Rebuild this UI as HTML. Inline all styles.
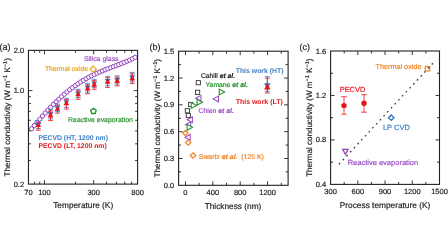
<!DOCTYPE html>
<html><head><meta charset="utf-8"><title>Thermal conductivity figure</title>
<style>html,body{margin:0;padding:0;background:#fff;width:448px;height:252px;overflow:hidden}svg{display:block}text{text-rendering:geometricPrecision}</style>
</head><body>
<svg width="448" height="252" viewBox="0 0 448 252" font-family="'Liberation Sans', Arial, sans-serif">
<circle cx="31.6" cy="128.81" r="2.15" fill="#fff" stroke="#9343bf" stroke-width="1.0"/>
<circle cx="34.32" cy="125.56" r="2.15" fill="#fff" stroke="#9343bf" stroke-width="1.0"/>
<circle cx="37.05" cy="122.35" r="2.15" fill="#fff" stroke="#9343bf" stroke-width="1.0"/>
<circle cx="39.77" cy="119.19" r="2.15" fill="#fff" stroke="#9343bf" stroke-width="1.0"/>
<circle cx="42.49" cy="116.09" r="2.15" fill="#fff" stroke="#9343bf" stroke-width="1.0"/>
<circle cx="45.22" cy="113.05" r="2.15" fill="#fff" stroke="#9343bf" stroke-width="1.0"/>
<circle cx="47.94" cy="110.1" r="2.15" fill="#fff" stroke="#9343bf" stroke-width="1.0"/>
<circle cx="50.67" cy="107.22" r="2.15" fill="#fff" stroke="#9343bf" stroke-width="1.0"/>
<circle cx="53.39" cy="104.43" r="2.15" fill="#fff" stroke="#9343bf" stroke-width="1.0"/>
<circle cx="56.11" cy="101.73" r="2.15" fill="#fff" stroke="#9343bf" stroke-width="1.0"/>
<circle cx="58.84" cy="99.13" r="2.15" fill="#fff" stroke="#9343bf" stroke-width="1.0"/>
<circle cx="61.56" cy="96.63" r="2.15" fill="#fff" stroke="#9343bf" stroke-width="1.0"/>
<circle cx="64.28" cy="94.23" r="2.15" fill="#fff" stroke="#9343bf" stroke-width="1.0"/>
<circle cx="67.01" cy="91.93" r="2.15" fill="#fff" stroke="#9343bf" stroke-width="1.0"/>
<circle cx="69.73" cy="89.73" r="2.15" fill="#fff" stroke="#9343bf" stroke-width="1.0"/>
<circle cx="72.46" cy="87.65" r="2.15" fill="#fff" stroke="#9343bf" stroke-width="1.0"/>
<circle cx="75.18" cy="85.66" r="2.15" fill="#fff" stroke="#9343bf" stroke-width="1.0"/>
<circle cx="77.9" cy="83.78" r="2.15" fill="#fff" stroke="#9343bf" stroke-width="1.0"/>
<circle cx="80.63" cy="82" r="2.15" fill="#fff" stroke="#9343bf" stroke-width="1.0"/>
<circle cx="83.35" cy="80.31" r="2.15" fill="#fff" stroke="#9343bf" stroke-width="1.0"/>
<circle cx="86.07" cy="78.72" r="2.15" fill="#fff" stroke="#9343bf" stroke-width="1.0"/>
<circle cx="88.8" cy="77.22" r="2.15" fill="#fff" stroke="#9343bf" stroke-width="1.0"/>
<circle cx="91.52" cy="75.81" r="2.15" fill="#fff" stroke="#9343bf" stroke-width="1.0"/>
<circle cx="94.24" cy="74.47" r="2.15" fill="#fff" stroke="#9343bf" stroke-width="1.0"/>
<circle cx="96.97" cy="73.2" r="2.15" fill="#fff" stroke="#9343bf" stroke-width="1.0"/>
<circle cx="99.69" cy="72" r="2.15" fill="#fff" stroke="#9343bf" stroke-width="1.0"/>
<circle cx="102.42" cy="70.86" r="2.15" fill="#fff" stroke="#9343bf" stroke-width="1.0"/>
<circle cx="105.14" cy="69.76" r="2.15" fill="#fff" stroke="#9343bf" stroke-width="1.0"/>
<circle cx="107.86" cy="68.69" r="2.15" fill="#fff" stroke="#9343bf" stroke-width="1.0"/>
<circle cx="110.59" cy="67.66" r="2.15" fill="#fff" stroke="#9343bf" stroke-width="1.0"/>
<circle cx="113.31" cy="66.64" r="2.15" fill="#fff" stroke="#9343bf" stroke-width="1.0"/>
<circle cx="116.03" cy="65.62" r="2.15" fill="#fff" stroke="#9343bf" stroke-width="1.0"/>
<circle cx="118.76" cy="64.59" r="2.15" fill="#fff" stroke="#9343bf" stroke-width="1.0"/>
<circle cx="121.48" cy="63.53" r="2.15" fill="#fff" stroke="#9343bf" stroke-width="1.0"/>
<circle cx="124.21" cy="62.44" r="2.15" fill="#fff" stroke="#9343bf" stroke-width="1.0"/>
<circle cx="126.93" cy="61.29" r="2.15" fill="#fff" stroke="#9343bf" stroke-width="1.0"/>
<circle cx="129.65" cy="60.07" r="2.15" fill="#fff" stroke="#9343bf" stroke-width="1.0"/>
<circle cx="132.38" cy="58.77" r="2.15" fill="#fff" stroke="#9343bf" stroke-width="1.0"/>
<circle cx="135.1" cy="57.36" r="2.15" fill="#fff" stroke="#9343bf" stroke-width="1.0"/>
<line x1="38.3" y1="121.2" x2="38.3" y2="128.5" stroke="#3a7fc6" stroke-width="0.8"/>
<line x1="35.8" y1="121.2" x2="40.8" y2="121.2" stroke="#3a7fc6" stroke-width="0.8"/>
<line x1="35.8" y1="128.5" x2="40.8" y2="128.5" stroke="#3a7fc6" stroke-width="0.8"/>
<path d="M35.3,123 L41.3,123 L38.3,126.8 Z" fill="#3a7fc6"/>
<line x1="38.3" y1="122.55" x2="38.3" y2="130.2" stroke="#e81419" stroke-width="0.8"/>
<line x1="35.8" y1="122.55" x2="40.8" y2="122.55" stroke="#e81419" stroke-width="0.8"/>
<line x1="35.8" y1="130.2" x2="40.8" y2="130.2" stroke="#e81419" stroke-width="0.8"/>
<path d="M35.45,127 L41.15,127 L38.3,122.7 Z" fill="#e81419"/>
<line x1="50.5" y1="109.6" x2="50.5" y2="118.9" stroke="#3a7fc6" stroke-width="0.8"/>
<line x1="48" y1="109.6" x2="53" y2="109.6" stroke="#3a7fc6" stroke-width="0.8"/>
<line x1="48" y1="118.9" x2="53" y2="118.9" stroke="#3a7fc6" stroke-width="0.8"/>
<path d="M47.5,111.9 L53.5,111.9 L50.5,117.2 Z" fill="#3a7fc6"/>
<line x1="50.5" y1="110.95" x2="50.5" y2="120.6" stroke="#e81419" stroke-width="0.8"/>
<line x1="48" y1="110.95" x2="53" y2="110.95" stroke="#e81419" stroke-width="0.8"/>
<line x1="48" y1="120.6" x2="53" y2="120.6" stroke="#e81419" stroke-width="0.8"/>
<path d="M47.65,117.4 L53.35,117.4 L50.5,111.6 Z" fill="#e81419"/>
<line x1="57.5" y1="104.2" x2="57.5" y2="111.4" stroke="#3a7fc6" stroke-width="0.8"/>
<line x1="55" y1="104.2" x2="60" y2="104.2" stroke="#3a7fc6" stroke-width="0.8"/>
<line x1="55" y1="111.4" x2="60" y2="111.4" stroke="#3a7fc6" stroke-width="0.8"/>
<path d="M54.5,106.2 L60.5,106.2 L57.5,110.6 Z" fill="#3a7fc6"/>
<line x1="57.5" y1="105.55" x2="57.5" y2="113.1" stroke="#e81419" stroke-width="0.8"/>
<line x1="55" y1="105.55" x2="60" y2="105.55" stroke="#e81419" stroke-width="0.8"/>
<line x1="55" y1="113.1" x2="60" y2="113.1" stroke="#e81419" stroke-width="0.8"/>
<path d="M54.65,110.8 L60.35,110.8 L57.5,105.9 Z" fill="#e81419"/>
<line x1="66.4" y1="98.2" x2="66.4" y2="107.4" stroke="#3a7fc6" stroke-width="0.8"/>
<line x1="63.9" y1="98.2" x2="68.9" y2="98.2" stroke="#3a7fc6" stroke-width="0.8"/>
<line x1="63.9" y1="107.4" x2="68.9" y2="107.4" stroke="#3a7fc6" stroke-width="0.8"/>
<path d="M63.4,100.3 L69.4,100.3 L66.4,105.1 Z" fill="#3a7fc6"/>
<line x1="66.4" y1="99.55" x2="66.4" y2="109.1" stroke="#e81419" stroke-width="0.8"/>
<line x1="63.9" y1="99.55" x2="68.9" y2="99.55" stroke="#e81419" stroke-width="0.8"/>
<line x1="63.9" y1="109.1" x2="68.9" y2="109.1" stroke="#e81419" stroke-width="0.8"/>
<path d="M63.55,105.3 L69.25,105.3 L66.4,100 Z" fill="#e81419"/>
<line x1="78.1" y1="89.3" x2="78.1" y2="97.6" stroke="#3a7fc6" stroke-width="0.8"/>
<line x1="75.6" y1="89.3" x2="80.6" y2="89.3" stroke="#3a7fc6" stroke-width="0.8"/>
<line x1="75.6" y1="97.6" x2="80.6" y2="97.6" stroke="#3a7fc6" stroke-width="0.8"/>
<path d="M75.1,91.5 L81.1,91.5 L78.1,96 Z" fill="#3a7fc6"/>
<line x1="78.1" y1="90.65" x2="78.1" y2="99.3" stroke="#e81419" stroke-width="0.8"/>
<line x1="75.6" y1="90.65" x2="80.6" y2="90.65" stroke="#e81419" stroke-width="0.8"/>
<line x1="75.6" y1="99.3" x2="80.6" y2="99.3" stroke="#e81419" stroke-width="0.8"/>
<path d="M75.25,96.2 L80.95,96.2 L78.1,91.2 Z" fill="#e81419"/>
<line x1="87.6" y1="83.5" x2="87.6" y2="92" stroke="#3a7fc6" stroke-width="0.8"/>
<line x1="85.1" y1="83.5" x2="90.1" y2="83.5" stroke="#3a7fc6" stroke-width="0.8"/>
<line x1="85.1" y1="92" x2="90.1" y2="92" stroke="#3a7fc6" stroke-width="0.8"/>
<path d="M84.6,85.5 L90.6,85.5 L87.6,90.4 Z" fill="#3a7fc6"/>
<line x1="87.6" y1="84.85" x2="87.6" y2="93.7" stroke="#e81419" stroke-width="0.8"/>
<line x1="85.1" y1="84.85" x2="90.1" y2="84.85" stroke="#e81419" stroke-width="0.8"/>
<line x1="85.1" y1="93.7" x2="90.1" y2="93.7" stroke="#e81419" stroke-width="0.8"/>
<path d="M84.75,90.6 L90.45,90.6 L87.6,85.2 Z" fill="#e81419"/>
<line x1="94.2" y1="79.3" x2="94.2" y2="87.6" stroke="#3a7fc6" stroke-width="0.8"/>
<line x1="91.7" y1="79.3" x2="96.7" y2="79.3" stroke="#3a7fc6" stroke-width="0.8"/>
<line x1="91.7" y1="87.6" x2="96.7" y2="87.6" stroke="#3a7fc6" stroke-width="0.8"/>
<path d="M91.2,81.6 L97.2,81.6 L94.2,86.5 Z" fill="#3a7fc6"/>
<line x1="94.2" y1="80.65" x2="94.2" y2="89.3" stroke="#e81419" stroke-width="0.8"/>
<line x1="91.7" y1="80.65" x2="96.7" y2="80.65" stroke="#e81419" stroke-width="0.8"/>
<line x1="91.7" y1="89.3" x2="96.7" y2="89.3" stroke="#e81419" stroke-width="0.8"/>
<path d="M91.35,86.7 L97.05,86.7 L94.2,81.3 Z" fill="#e81419"/>
<line x1="107.6" y1="76.3" x2="107.6" y2="85.7" stroke="#3a7fc6" stroke-width="0.8"/>
<line x1="105.1" y1="76.3" x2="110.1" y2="76.3" stroke="#3a7fc6" stroke-width="0.8"/>
<line x1="105.1" y1="85.7" x2="110.1" y2="85.7" stroke="#3a7fc6" stroke-width="0.8"/>
<path d="M104.6,78.9 L110.6,78.9 L107.6,83.6 Z" fill="#3a7fc6"/>
<line x1="107.6" y1="77.65" x2="107.6" y2="87.4" stroke="#e81419" stroke-width="0.8"/>
<line x1="105.1" y1="77.65" x2="110.1" y2="77.65" stroke="#e81419" stroke-width="0.8"/>
<line x1="105.1" y1="87.4" x2="110.1" y2="87.4" stroke="#e81419" stroke-width="0.8"/>
<path d="M104.75,83.8 L110.45,83.8 L107.6,78.6 Z" fill="#e81419"/>
<line x1="117.2" y1="75.8" x2="117.2" y2="84.1" stroke="#3a7fc6" stroke-width="0.8"/>
<line x1="114.7" y1="75.8" x2="119.7" y2="75.8" stroke="#3a7fc6" stroke-width="0.8"/>
<line x1="114.7" y1="84.1" x2="119.7" y2="84.1" stroke="#3a7fc6" stroke-width="0.8"/>
<path d="M114.2,78.1 L120.2,78.1 L117.2,82.8 Z" fill="#3a7fc6"/>
<line x1="117.2" y1="77.15" x2="117.2" y2="85.8" stroke="#e81419" stroke-width="0.8"/>
<line x1="114.7" y1="77.15" x2="119.7" y2="77.15" stroke="#e81419" stroke-width="0.8"/>
<line x1="114.7" y1="85.8" x2="119.7" y2="85.8" stroke="#e81419" stroke-width="0.8"/>
<path d="M114.35,83 L120.05,83 L117.2,77.8 Z" fill="#e81419"/>
<line x1="132.2" y1="72.4" x2="132.2" y2="81.9" stroke="#3a7fc6" stroke-width="0.8"/>
<line x1="129.7" y1="72.4" x2="134.7" y2="72.4" stroke="#3a7fc6" stroke-width="0.8"/>
<line x1="129.7" y1="81.9" x2="134.7" y2="81.9" stroke="#3a7fc6" stroke-width="0.8"/>
<path d="M129.2,75.3 L135.2,75.3 L132.2,80.4 Z" fill="#3a7fc6"/>
<line x1="132.2" y1="73.75" x2="132.2" y2="83.6" stroke="#e81419" stroke-width="0.8"/>
<line x1="129.7" y1="73.75" x2="134.7" y2="73.75" stroke="#e81419" stroke-width="0.8"/>
<line x1="129.7" y1="83.6" x2="134.7" y2="83.6" stroke="#e81419" stroke-width="0.8"/>
<path d="M129.35,80.6 L135.05,80.6 L132.2,75 Z" fill="#e81419"/>
<path d="M93.2,66.1 L96.4,69.3 L93.2,72.5 L90,69.3 Z" fill="#fff" stroke="#e6a614" stroke-width="1.2"/>
<polygon points="93.5,108.35 96.21,110.32 95.18,113.51 91.82,113.51 90.79,110.32" fill="#fff" stroke="#22922a" stroke-width="1.35"/>
<rect x="28.45" y="50.35" width="109.15" height="133.75" fill="none" stroke="#222" stroke-width="1.1"/>
<line x1="34.43" y1="184.1" x2="34.43" y2="181.6" stroke="#222" stroke-width="0.9"/>
<line x1="34.43" y1="50.35" x2="34.43" y2="52.85" stroke="#222" stroke-width="0.9"/>
<line x1="39.71" y1="184.1" x2="39.71" y2="181.6" stroke="#222" stroke-width="0.9"/>
<line x1="39.71" y1="50.35" x2="39.71" y2="52.85" stroke="#222" stroke-width="0.9"/>
<line x1="44.43" y1="184.1" x2="44.43" y2="180.1" stroke="#222" stroke-width="0.9"/>
<line x1="44.43" y1="50.35" x2="44.43" y2="54.35" stroke="#222" stroke-width="0.9"/>
<line x1="75.49" y1="184.1" x2="75.49" y2="181.6" stroke="#222" stroke-width="0.9"/>
<line x1="75.49" y1="50.35" x2="75.49" y2="52.85" stroke="#222" stroke-width="0.9"/>
<line x1="93.65" y1="184.1" x2="93.65" y2="180.1" stroke="#222" stroke-width="0.9"/>
<line x1="93.65" y1="50.35" x2="93.65" y2="54.35" stroke="#222" stroke-width="0.9"/>
<line x1="106.54" y1="184.1" x2="106.54" y2="181.6" stroke="#222" stroke-width="0.9"/>
<line x1="106.54" y1="50.35" x2="106.54" y2="52.85" stroke="#222" stroke-width="0.9"/>
<line x1="116.54" y1="184.1" x2="116.54" y2="181.6" stroke="#222" stroke-width="0.9"/>
<line x1="116.54" y1="50.35" x2="116.54" y2="52.85" stroke="#222" stroke-width="0.9"/>
<line x1="124.71" y1="184.1" x2="124.71" y2="181.6" stroke="#222" stroke-width="0.9"/>
<line x1="124.71" y1="50.35" x2="124.71" y2="52.85" stroke="#222" stroke-width="0.9"/>
<line x1="131.62" y1="184.1" x2="131.62" y2="181.6" stroke="#222" stroke-width="0.9"/>
<line x1="131.62" y1="50.35" x2="131.62" y2="52.85" stroke="#222" stroke-width="0.9"/>
<line x1="28.45" y1="160.55" x2="30.95" y2="160.55" stroke="#222" stroke-width="0.9"/>
<line x1="137.6" y1="160.55" x2="135.1" y2="160.55" stroke="#222" stroke-width="0.9"/>
<line x1="28.45" y1="143.84" x2="30.95" y2="143.84" stroke="#222" stroke-width="0.9"/>
<line x1="137.6" y1="143.84" x2="135.1" y2="143.84" stroke="#222" stroke-width="0.9"/>
<line x1="28.45" y1="130.88" x2="30.95" y2="130.88" stroke="#222" stroke-width="0.9"/>
<line x1="137.6" y1="130.88" x2="135.1" y2="130.88" stroke="#222" stroke-width="0.9"/>
<line x1="28.45" y1="120.29" x2="30.95" y2="120.29" stroke="#222" stroke-width="0.9"/>
<line x1="137.6" y1="120.29" x2="135.1" y2="120.29" stroke="#222" stroke-width="0.9"/>
<line x1="28.45" y1="111.33" x2="30.95" y2="111.33" stroke="#222" stroke-width="0.9"/>
<line x1="137.6" y1="111.33" x2="135.1" y2="111.33" stroke="#222" stroke-width="0.9"/>
<line x1="28.45" y1="103.57" x2="30.95" y2="103.57" stroke="#222" stroke-width="0.9"/>
<line x1="137.6" y1="103.57" x2="135.1" y2="103.57" stroke="#222" stroke-width="0.9"/>
<line x1="28.45" y1="96.73" x2="30.95" y2="96.73" stroke="#222" stroke-width="0.9"/>
<line x1="137.6" y1="96.73" x2="135.1" y2="96.73" stroke="#222" stroke-width="0.9"/>
<line x1="28.45" y1="90.61" x2="32.45" y2="90.61" stroke="#222" stroke-width="0.9"/>
<line x1="137.6" y1="90.61" x2="133.6" y2="90.61" stroke="#222" stroke-width="0.9"/>
<text x="83.9" y="60.5" font-size="6.95" fill="#9d4ec4" stroke="#9d4ec4" stroke-width="0.18" text-anchor="start" font-weight="normal">Silica glass</text>
<text x="44.9" y="70.6" font-size="6.8" fill="#e6a614" stroke="#e6a614" stroke-width="0.18" text-anchor="start" font-weight="normal">Thermal oxide</text>
<text x="68.1" y="122.3" font-size="6.9" fill="#22922a" stroke="#22922a" stroke-width="0.18" text-anchor="start" font-weight="normal">Reactive evaporation</text>
<text x="38.4" y="139.8" font-size="6.85" fill="#3a7fc6" text-anchor="start" font-weight="bold">PECVD (HT, 1200 nm)</text>
<text x="38.4" y="148" font-size="6.85" fill="#e81419" text-anchor="start" font-weight="bold">PECVD (LT, 1200 nm)</text>
<text x="24.15" y="52.9" font-size="7.5" fill="#222" stroke="#222" stroke-width="0.18" text-anchor="end" font-weight="normal">2.0</text>
<text x="24.15" y="93.16" font-size="7.5" fill="#222" stroke="#222" stroke-width="0.18" text-anchor="end" font-weight="normal">1.0</text>
<text x="24.15" y="186.65" font-size="7.5" fill="#222" stroke="#222" stroke-width="0.18" text-anchor="end" font-weight="normal">0.2</text>
<text x="28.45" y="194.5" font-size="7.5" fill="#222" stroke="#222" stroke-width="0.18" text-anchor="middle" font-weight="normal">70</text>
<text x="44.43" y="194.5" font-size="7.5" fill="#222" stroke="#222" stroke-width="0.18" text-anchor="middle" font-weight="normal">100</text>
<text x="93.65" y="194.5" font-size="7.5" fill="#222" stroke="#222" stroke-width="0.18" text-anchor="middle" font-weight="normal">300</text>
<text x="137.6" y="194.5" font-size="7.5" fill="#222" stroke="#222" stroke-width="0.18" text-anchor="middle" font-weight="normal">800</text>
<text x="83.2" y="207.5" font-size="8.3" fill="#222" stroke="#222" stroke-width="0.18" text-anchor="middle" font-weight="normal">Temperature (K)</text>
<text x="-0.4" y="50" font-size="9" fill="#222" stroke="#222" stroke-width="0.18" text-anchor="start" font-weight="normal">(a)</text>
<text transform="translate(10.3,117.25) rotate(-90)" x="0" y="0" font-size="8.05" fill="#222" stroke="#222" stroke-width="0.18" text-anchor="middle">Thermal conductivity (W m<tspan font-size="5.6" dy="-3.2">&#8722;1</tspan><tspan dy="3.2"> K</tspan><tspan font-size="5.6" dy="-3.2">&#8722;1</tspan><tspan dy="3.2">)</tspan></text>
<rect x="196.2" y="80.6" width="4.2" height="4.2" fill="#fff" stroke="#333" stroke-width="0.9"/>
<rect x="195.5" y="90.2" width="4.2" height="4.2" fill="#fff" stroke="#333" stroke-width="0.9"/>
<rect x="188.6" y="102.4" width="4.2" height="4.2" fill="#fff" stroke="#333" stroke-width="0.9"/>
<rect x="185.3" y="108.7" width="4.2" height="4.2" fill="#fff" stroke="#333" stroke-width="0.9"/>
<rect x="186.2" y="113.4" width="4.2" height="4.2" fill="#fff" stroke="#333" stroke-width="0.9"/>
<path d="M195.65,98.2 L200.92,95.35 L200.92,101.05 Z" fill="#fff" stroke="#9d4ec4" stroke-width="1.05"/>
<path d="M213.15,98.9 L218.42,96.05 L218.42,101.75 Z" fill="#fff" stroke="#9d4ec4" stroke-width="1.05"/>
<path d="M187.15,119.8 L192.42,116.95 L192.42,122.65 Z" fill="#fff" stroke="#9d4ec4" stroke-width="1.05"/>
<path d="M185.45,124.6 L190.72,121.75 L190.72,127.45 Z" fill="#fff" stroke="#9d4ec4" stroke-width="1.05"/>
<path d="M184.95,137.3 L190.22,134.45 L190.22,140.15 Z" fill="#fff" stroke="#9d4ec4" stroke-width="1.05"/>
<path d="M196.65,105.5 L191.19,102.55 L191.19,108.45 Z" fill="#fff" stroke="#22922a" stroke-width="1.05"/>
<path d="M202.55,102.2 L197.09,99.25 L197.09,105.15 Z" fill="#fff" stroke="#22922a" stroke-width="1.05"/>
<path d="M224.65,92 L219.19,89.05 L219.19,94.95 Z" fill="#fff" stroke="#22922a" stroke-width="1.05"/>
<path d="M192.55,127.3 L187.09,124.35 L187.09,130.25 Z" fill="#fff" stroke="#22922a" stroke-width="1.05"/>
<path d="M185.4,130.25 L188.15,133 L185.4,135.75 L182.65,133 Z" fill="#fff" stroke="#f28420" stroke-width="1.2"/>
<path d="M188.2,139.75 L190.95,142.5 L188.2,145.25 L185.45,142.5 Z" fill="#fff" stroke="#f28420" stroke-width="1.2"/>
<path d="M193,152.75 L195.75,155.5 L193,158.25 L190.25,155.5 Z" fill="#fff" stroke="#f28420" stroke-width="1.2"/>
<line x1="267.3" y1="76.6" x2="267.3" y2="91.3" stroke="#3a7fc6" stroke-width="0.8"/>
<line x1="264.8" y1="76.6" x2="269.8" y2="76.6" stroke="#3a7fc6" stroke-width="0.8"/>
<line x1="264.8" y1="91.3" x2="269.8" y2="91.3" stroke="#3a7fc6" stroke-width="0.8"/>
<path d="M264.05,83.2 L270.55,83.2 L267.3,89.4 Z" fill="#3a7fc6"/>
<line x1="267.3" y1="78.2" x2="267.3" y2="93" stroke="#e81419" stroke-width="0.8"/>
<line x1="264.8" y1="78.2" x2="269.8" y2="78.2" stroke="#e81419" stroke-width="0.8"/>
<line x1="264.8" y1="93" x2="269.8" y2="93" stroke="#e81419" stroke-width="0.8"/>
<path d="M264.2,89.6 L270.4,89.6 L267.3,82.9 Z" fill="#e81419"/>
<rect x="178.6" y="51.2" width="109.5" height="134.1" fill="none" stroke="#222" stroke-width="1.1"/>
<line x1="185.44" y1="185.3" x2="185.44" y2="181.3" stroke="#222" stroke-width="0.9"/>
<line x1="185.44" y1="51.2" x2="185.44" y2="55.2" stroke="#222" stroke-width="0.9"/>
<line x1="199.13" y1="185.3" x2="199.13" y2="182.8" stroke="#222" stroke-width="0.9"/>
<line x1="199.13" y1="51.2" x2="199.13" y2="53.7" stroke="#222" stroke-width="0.9"/>
<line x1="212.82" y1="185.3" x2="212.82" y2="181.3" stroke="#222" stroke-width="0.9"/>
<line x1="212.82" y1="51.2" x2="212.82" y2="55.2" stroke="#222" stroke-width="0.9"/>
<line x1="226.51" y1="185.3" x2="226.51" y2="182.8" stroke="#222" stroke-width="0.9"/>
<line x1="226.51" y1="51.2" x2="226.51" y2="53.7" stroke="#222" stroke-width="0.9"/>
<line x1="240.19" y1="185.3" x2="240.19" y2="181.3" stroke="#222" stroke-width="0.9"/>
<line x1="240.19" y1="51.2" x2="240.19" y2="55.2" stroke="#222" stroke-width="0.9"/>
<line x1="253.88" y1="185.3" x2="253.88" y2="182.8" stroke="#222" stroke-width="0.9"/>
<line x1="253.88" y1="51.2" x2="253.88" y2="53.7" stroke="#222" stroke-width="0.9"/>
<line x1="267.57" y1="185.3" x2="267.57" y2="181.3" stroke="#222" stroke-width="0.9"/>
<line x1="267.57" y1="51.2" x2="267.57" y2="55.2" stroke="#222" stroke-width="0.9"/>
<line x1="281.26" y1="185.3" x2="281.26" y2="182.8" stroke="#222" stroke-width="0.9"/>
<line x1="281.26" y1="51.2" x2="281.26" y2="53.7" stroke="#222" stroke-width="0.9"/>
<line x1="178.6" y1="171.89" x2="181.1" y2="171.89" stroke="#222" stroke-width="0.9"/>
<line x1="288.1" y1="171.89" x2="285.6" y2="171.89" stroke="#222" stroke-width="0.9"/>
<line x1="178.6" y1="158.48" x2="182.6" y2="158.48" stroke="#222" stroke-width="0.9"/>
<line x1="288.1" y1="158.48" x2="284.1" y2="158.48" stroke="#222" stroke-width="0.9"/>
<line x1="178.6" y1="145.07" x2="181.1" y2="145.07" stroke="#222" stroke-width="0.9"/>
<line x1="288.1" y1="145.07" x2="285.6" y2="145.07" stroke="#222" stroke-width="0.9"/>
<line x1="178.6" y1="131.66" x2="182.6" y2="131.66" stroke="#222" stroke-width="0.9"/>
<line x1="288.1" y1="131.66" x2="284.1" y2="131.66" stroke="#222" stroke-width="0.9"/>
<line x1="178.6" y1="118.25" x2="181.1" y2="118.25" stroke="#222" stroke-width="0.9"/>
<line x1="288.1" y1="118.25" x2="285.6" y2="118.25" stroke="#222" stroke-width="0.9"/>
<line x1="178.6" y1="104.84" x2="182.6" y2="104.84" stroke="#222" stroke-width="0.9"/>
<line x1="288.1" y1="104.84" x2="284.1" y2="104.84" stroke="#222" stroke-width="0.9"/>
<line x1="178.6" y1="91.43" x2="181.1" y2="91.43" stroke="#222" stroke-width="0.9"/>
<line x1="288.1" y1="91.43" x2="285.6" y2="91.43" stroke="#222" stroke-width="0.9"/>
<line x1="178.6" y1="78.02" x2="182.6" y2="78.02" stroke="#222" stroke-width="0.9"/>
<line x1="288.1" y1="78.02" x2="284.1" y2="78.02" stroke="#222" stroke-width="0.9"/>
<line x1="178.6" y1="64.61" x2="181.1" y2="64.61" stroke="#222" stroke-width="0.9"/>
<line x1="288.1" y1="64.61" x2="285.6" y2="64.61" stroke="#222" stroke-width="0.9"/>
<text x="174.3" y="187.85" font-size="7.5" fill="#222" stroke="#222" stroke-width="0.18" text-anchor="end" font-weight="normal">0.0</text>
<text x="174.3" y="161.03" font-size="7.5" fill="#222" stroke="#222" stroke-width="0.18" text-anchor="end" font-weight="normal">0.3</text>
<text x="174.3" y="134.21" font-size="7.5" fill="#222" stroke="#222" stroke-width="0.18" text-anchor="end" font-weight="normal">0.6</text>
<text x="174.3" y="107.39" font-size="7.5" fill="#222" stroke="#222" stroke-width="0.18" text-anchor="end" font-weight="normal">0.9</text>
<text x="174.3" y="80.57" font-size="7.5" fill="#222" stroke="#222" stroke-width="0.18" text-anchor="end" font-weight="normal">1.2</text>
<text x="174.3" y="53.75" font-size="7.5" fill="#222" stroke="#222" stroke-width="0.18" text-anchor="end" font-weight="normal">1.5</text>
<text x="185.44" y="195.2" font-size="7.5" fill="#222" stroke="#222" stroke-width="0.18" text-anchor="middle" font-weight="normal">0</text>
<text x="212.82" y="195.2" font-size="7.5" fill="#222" stroke="#222" stroke-width="0.18" text-anchor="middle" font-weight="normal">400</text>
<text x="240.19" y="195.2" font-size="7.5" fill="#222" stroke="#222" stroke-width="0.18" text-anchor="middle" font-weight="normal">800</text>
<text x="267.57" y="195.2" font-size="7.5" fill="#222" stroke="#222" stroke-width="0.18" text-anchor="middle" font-weight="normal">1200</text>
<text x="233" y="208.85" font-size="8.3" fill="#222" stroke="#222" stroke-width="0.18" text-anchor="middle" font-weight="normal">Thickness (nm)</text>
<text x="149.6" y="50" font-size="9" fill="#222" stroke="#222" stroke-width="0.18" text-anchor="start" font-weight="normal">(b)</text>
<text transform="translate(160.45,118.15) rotate(-90)" x="0" y="0" font-size="8.05" fill="#222" stroke="#222" stroke-width="0.18" text-anchor="middle">Thermal conductivity (W m<tspan font-size="5.6" dy="-3.2">&#8722;1</tspan><tspan dy="3.2"> K</tspan><tspan font-size="5.6" dy="-3.2">&#8722;1</tspan><tspan dy="3.2">)</tspan></text>
<text x="200.9" y="77.8" font-size="6.75" fill="#222" stroke="#222" stroke-width="0.18" text-anchor="start" font-weight="normal">Cahill <tspan font-style="italic" font-weight="bold">et al.</tspan></text>
<text x="205.6" y="87.4" font-size="6.8" fill="#22922a" stroke="#22922a" stroke-width="0.18" text-anchor="start" font-weight="normal">Yamane <tspan font-style="italic" font-weight="bold">et al.</tspan></text>
<text x="198.5" y="112.7" font-size="6.85" fill="#9d4ec4" stroke="#9d4ec4" stroke-width="0.18" text-anchor="start" font-weight="normal">Chien <tspan font-style="italic" font-weight="bold">et al.</tspan></text>
<text x="198.8" y="159.3" font-size="6.9" fill="#f28420" stroke="#f28420" stroke-width="0.18" text-anchor="start" font-weight="normal" xml:space="preserve">Swartz <tspan font-style="italic" font-weight="bold">et al.</tspan>  (125 K)</text>
<text x="235.7" y="72.9" font-size="6.9" fill="#3a7fc6" text-anchor="start" font-weight="bold">This work (HT)</text>
<text x="235.7" y="104" font-size="6.98" fill="#e81419" text-anchor="start" font-weight="bold">This work (LT)</text>
<line x1="338.97" y1="164.24" x2="340.12" y2="162.99" stroke="#383838" stroke-width="1.25"/>
<line x1="342.68" y1="160.25" x2="343.84" y2="159" stroke="#383838" stroke-width="1.25"/>
<line x1="346.39" y1="156.26" x2="347.55" y2="155.01" stroke="#383838" stroke-width="1.25"/>
<line x1="350.1" y1="152.27" x2="351.26" y2="151.02" stroke="#383838" stroke-width="1.25"/>
<line x1="353.81" y1="148.28" x2="354.97" y2="147.03" stroke="#383838" stroke-width="1.25"/>
<line x1="357.52" y1="144.29" x2="358.68" y2="143.05" stroke="#383838" stroke-width="1.25"/>
<line x1="361.23" y1="140.3" x2="362.39" y2="139.06" stroke="#383838" stroke-width="1.25"/>
<line x1="364.95" y1="136.31" x2="366.1" y2="135.07" stroke="#383838" stroke-width="1.25"/>
<line x1="368.66" y1="132.32" x2="369.82" y2="131.08" stroke="#383838" stroke-width="1.25"/>
<line x1="372.37" y1="128.33" x2="373.53" y2="127.09" stroke="#383838" stroke-width="1.25"/>
<line x1="376.08" y1="124.34" x2="377.24" y2="123.1" stroke="#383838" stroke-width="1.25"/>
<line x1="379.79" y1="120.35" x2="380.95" y2="119.11" stroke="#383838" stroke-width="1.25"/>
<line x1="383.5" y1="116.36" x2="384.66" y2="115.12" stroke="#383838" stroke-width="1.25"/>
<line x1="387.21" y1="112.37" x2="388.37" y2="111.13" stroke="#383838" stroke-width="1.25"/>
<line x1="390.93" y1="108.39" x2="392.08" y2="107.14" stroke="#383838" stroke-width="1.25"/>
<line x1="394.64" y1="104.4" x2="395.8" y2="103.15" stroke="#383838" stroke-width="1.25"/>
<line x1="398.35" y1="100.41" x2="399.51" y2="99.16" stroke="#383838" stroke-width="1.25"/>
<line x1="402.06" y1="96.42" x2="403.22" y2="95.17" stroke="#383838" stroke-width="1.25"/>
<line x1="405.77" y1="92.43" x2="406.93" y2="91.18" stroke="#383838" stroke-width="1.25"/>
<line x1="409.48" y1="88.44" x2="410.64" y2="87.19" stroke="#383838" stroke-width="1.25"/>
<line x1="413.19" y1="84.45" x2="414.35" y2="83.2" stroke="#383838" stroke-width="1.25"/>
<line x1="416.91" y1="80.46" x2="418.06" y2="79.21" stroke="#383838" stroke-width="1.25"/>
<line x1="420.62" y1="76.47" x2="421.78" y2="75.23" stroke="#383838" stroke-width="1.25"/>
<line x1="424.33" y1="72.48" x2="425.49" y2="71.24" stroke="#383838" stroke-width="1.25"/>
<line x1="428.04" y1="68.49" x2="429.2" y2="67.25" stroke="#383838" stroke-width="1.25"/>
<line x1="431.75" y1="64.5" x2="432.91" y2="63.26" stroke="#383838" stroke-width="1.25"/>
<line x1="344" y1="96.7" x2="344" y2="114.2" stroke="#e81419" stroke-width="0.8"/>
<line x1="341.2" y1="96.7" x2="346.8" y2="96.7" stroke="#e81419" stroke-width="0.8"/>
<line x1="341.2" y1="114.2" x2="346.8" y2="114.2" stroke="#e81419" stroke-width="0.8"/>
<circle cx="344" cy="105.6" r="2.7" fill="#e81419"/>
<line x1="364" y1="94.7" x2="364" y2="112.2" stroke="#e81419" stroke-width="0.8"/>
<line x1="361.2" y1="94.7" x2="366.8" y2="94.7" stroke="#e81419" stroke-width="0.8"/>
<line x1="361.2" y1="112.2" x2="366.8" y2="112.2" stroke="#e81419" stroke-width="0.8"/>
<circle cx="364" cy="103.3" r="2.7" fill="#e81419"/>
<path d="M391.3,115 L394,117.7 L391.3,120.4 L388.6,117.7 Z" fill="#fff" stroke="#2f74c2" stroke-width="1.35"/>
<path d="M342.7,149.4 L348.1,149.4 L345.4,154.4 Z" fill="#fff" stroke="#9343bf" stroke-width="1.25"/>
<rect x="425.3" y="66.5" width="4.4" height="4.4" fill="#fff" stroke="#f28420" stroke-width="1.25"/>
<line x1="428.01" y1="68.53" x2="429.16" y2="67.28" stroke="#383838" stroke-width="1.25"/>
<rect x="330.6" y="51" width="108.9" height="133.4" fill="none" stroke="#222" stroke-width="1.1"/>
<line x1="344.21" y1="184.4" x2="344.21" y2="181.9" stroke="#222" stroke-width="0.9"/>
<line x1="344.21" y1="51" x2="344.21" y2="53.5" stroke="#222" stroke-width="0.9"/>
<line x1="357.83" y1="184.4" x2="357.83" y2="180.4" stroke="#222" stroke-width="0.9"/>
<line x1="357.83" y1="51" x2="357.83" y2="55" stroke="#222" stroke-width="0.9"/>
<line x1="371.44" y1="184.4" x2="371.44" y2="181.9" stroke="#222" stroke-width="0.9"/>
<line x1="371.44" y1="51" x2="371.44" y2="53.5" stroke="#222" stroke-width="0.9"/>
<line x1="385.05" y1="184.4" x2="385.05" y2="180.4" stroke="#222" stroke-width="0.9"/>
<line x1="385.05" y1="51" x2="385.05" y2="55" stroke="#222" stroke-width="0.9"/>
<line x1="398.66" y1="184.4" x2="398.66" y2="181.9" stroke="#222" stroke-width="0.9"/>
<line x1="398.66" y1="51" x2="398.66" y2="53.5" stroke="#222" stroke-width="0.9"/>
<line x1="412.27" y1="184.4" x2="412.27" y2="180.4" stroke="#222" stroke-width="0.9"/>
<line x1="412.27" y1="51" x2="412.27" y2="55" stroke="#222" stroke-width="0.9"/>
<line x1="425.89" y1="184.4" x2="425.89" y2="181.9" stroke="#222" stroke-width="0.9"/>
<line x1="425.89" y1="51" x2="425.89" y2="53.5" stroke="#222" stroke-width="0.9"/>
<line x1="330.6" y1="162.17" x2="333.1" y2="162.17" stroke="#222" stroke-width="0.9"/>
<line x1="439.5" y1="162.17" x2="437" y2="162.17" stroke="#222" stroke-width="0.9"/>
<line x1="330.6" y1="139.93" x2="334.6" y2="139.93" stroke="#222" stroke-width="0.9"/>
<line x1="439.5" y1="139.93" x2="435.5" y2="139.93" stroke="#222" stroke-width="0.9"/>
<line x1="330.6" y1="117.7" x2="333.1" y2="117.7" stroke="#222" stroke-width="0.9"/>
<line x1="439.5" y1="117.7" x2="437" y2="117.7" stroke="#222" stroke-width="0.9"/>
<line x1="330.6" y1="95.47" x2="334.6" y2="95.47" stroke="#222" stroke-width="0.9"/>
<line x1="439.5" y1="95.47" x2="435.5" y2="95.47" stroke="#222" stroke-width="0.9"/>
<line x1="330.6" y1="73.23" x2="333.1" y2="73.23" stroke="#222" stroke-width="0.9"/>
<line x1="439.5" y1="73.23" x2="437" y2="73.23" stroke="#222" stroke-width="0.9"/>
<text x="326.3" y="186.95" font-size="7.5" fill="#222" stroke="#222" stroke-width="0.18" text-anchor="end" font-weight="normal">0.4</text>
<text x="326.3" y="142.48" font-size="7.5" fill="#222" stroke="#222" stroke-width="0.18" text-anchor="end" font-weight="normal">0.8</text>
<text x="326.3" y="98.02" font-size="7.5" fill="#222" stroke="#222" stroke-width="0.18" text-anchor="end" font-weight="normal">1.2</text>
<text x="326.3" y="53.55" font-size="7.5" fill="#222" stroke="#222" stroke-width="0.18" text-anchor="end" font-weight="normal">1.6</text>
<text x="330.6" y="194.4" font-size="7.5" fill="#222" stroke="#222" stroke-width="0.18" text-anchor="middle" font-weight="normal">300</text>
<text x="357.83" y="194.4" font-size="7.5" fill="#222" stroke="#222" stroke-width="0.18" text-anchor="middle" font-weight="normal">600</text>
<text x="385.05" y="194.4" font-size="7.5" fill="#222" stroke="#222" stroke-width="0.18" text-anchor="middle" font-weight="normal">900</text>
<text x="412.27" y="194.4" font-size="7.5" fill="#222" stroke="#222" stroke-width="0.18" text-anchor="middle" font-weight="normal">1200</text>
<text x="439.5" y="194.4" font-size="7.5" fill="#222" stroke="#222" stroke-width="0.18" text-anchor="middle" font-weight="normal">1500</text>
<text x="385" y="207.8" font-size="8.3" fill="#222" stroke="#222" stroke-width="0.18" text-anchor="middle" font-weight="normal">Process temperature (K)</text>
<text x="299.5" y="50" font-size="9" fill="#222" stroke="#222" stroke-width="0.18" text-anchor="start" font-weight="normal">(c)</text>
<text transform="translate(312.45,117.65) rotate(-90)" x="0" y="0" font-size="8.05" fill="#222" stroke="#222" stroke-width="0.18" text-anchor="middle">Thermal conductivity (W m<tspan font-size="5.6" dy="-3.2">&#8722;1</tspan><tspan dy="3.2"> K</tspan><tspan font-size="5.6" dy="-3.2">&#8722;1</tspan><tspan dy="3.2">)</tspan></text>
<text x="339.7" y="91.5" font-size="7.45" fill="#e81419" stroke="#e81419" stroke-width="0.18" text-anchor="start" font-weight="normal">PECVD</text>
<text x="382.9" y="130" font-size="7.5" fill="#3a7fc6" stroke="#3a7fc6" stroke-width="0.18" text-anchor="start" font-weight="normal">LP CVD</text>
<text x="375.5" y="69.3" font-size="7.25" fill="#f28420" stroke="#f28420" stroke-width="0.18" text-anchor="start" font-weight="normal">Thermal oxide</text>
<text x="347.7" y="165.2" font-size="7.5" fill="#9d4ec4" stroke="#9d4ec4" stroke-width="0.18" text-anchor="start" font-weight="normal">Reactive evaporation</text>
</svg>
</body></html>
